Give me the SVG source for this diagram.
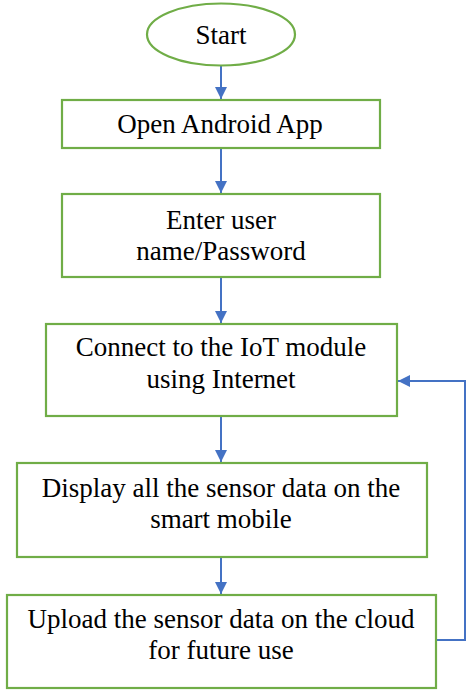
<svg xmlns="http://www.w3.org/2000/svg" width="474" height="694" viewBox="0 0 474 694">
<style>
.node{fill:#ffffff;stroke:#70AD47;stroke-width:2.2}
.lbl{font-family:"Liberation Serif","Times New Roman",serif;font-size:27px;fill:#000;text-anchor:middle}
.conn{fill:none;stroke:#4472C4;stroke-width:2}
</style>
<defs>
<marker id="ah" viewBox="0 0 12 12" refX="12" refY="6" markerWidth="12" markerHeight="12" markerUnits="userSpaceOnUse" orient="auto">
<path d="M0,0 L12,6 L0,12 Z" fill="#4472C4"/>
</marker>
</defs>
<rect width="474" height="694" fill="#ffffff"/>
<g id="connectors">
<line class="conn" x1="221" y1="66" x2="221" y2="99" marker-end="url(#ah)"/>
<line class="conn" x1="221" y1="148" x2="221" y2="193" marker-end="url(#ah)"/>
<line class="conn" x1="221" y1="277" x2="221" y2="323" marker-end="url(#ah)"/>
<line class="conn" x1="221" y1="416" x2="221" y2="462" marker-end="url(#ah)"/>
<line class="conn" x1="221" y1="557" x2="221" y2="594" marker-end="url(#ah)"/>
<polyline class="conn" points="436,640 465,640 465,381 398,381" marker-end="url(#ah)"/>
</g>
<g id="start">
<ellipse class="node" cx="221" cy="34.5" rx="74" ry="31"/>
<text class="lbl" x="221" y="44">Start</text>
</g>
<g id="open-app">
<rect class="node" x="62" y="100" width="318" height="48"/>
<text class="lbl" x="220" y="133">Open Android App</text>
</g>
<g id="login">
<rect class="node" x="62" y="194" width="318" height="83"/>
<text class="lbl" x="221" y="229">Enter user</text>
<text class="lbl" x="221" y="260">name/Password</text>
</g>
<g id="connect">
<rect class="node" x="46" y="324" width="351" height="92"/>
<text class="lbl" x="221" y="356">Connect to the IoT module</text>
<text class="lbl" x="221" y="388">using Internet</text>
</g>
<g id="display">
<rect class="node" x="17" y="463" width="410" height="94"/>
<text class="lbl" x="221" y="497">Display all the sensor data on the</text>
<text class="lbl" x="221" y="528">smart mobile</text>
</g>
<g id="upload">
<rect class="node" x="7" y="595" width="429" height="93"/>
<text class="lbl" x="221" y="628">Upload the sensor data on the cloud</text>
<text class="lbl" x="221" y="659">for future use</text>
</g>
</svg>
